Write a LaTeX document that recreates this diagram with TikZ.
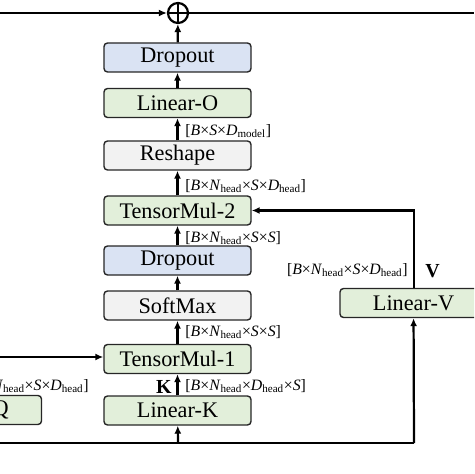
\documentclass[tikz,border=0pt]{standalone}
\usepackage{fontspec}
\setmainfont{Liberation Serif}
\usepackage{xcolor}
\usepackage{tikz}
\usetikzlibrary{arrows.meta}

\definecolor{lingreen}{RGB}{226,239,218}
\definecolor{dropblue}{RGB}{218,227,243}
\definecolor{opgray}{RGB}{242,242,242}

\newcommand{\Bd}{\textit{B}}
\newcommand{\Sd}{\textit{S}}
\newcommand{\Nhd}{\textit{N}\textsubscript{head}}
\newcommand{\Dhd}{\textit{D}\textsubscript{head}}

\tikzset{
  block/.style={draw=black!85, line width=1.2pt, rounded corners=3pt,
    minimum width=4.41cm, minimum height=0.87cm, inner sep=0pt,
    font=\fontsize{19}{22}\selectfont},
  linbox/.style={block, fill=lingreen},
  dropbox/.style={block, fill=dropblue},
  opbox/.style={block, fill=opgray},
  flow/.style={line width=1.9pt, -{Latex[length=2.4mm,width=2.1mm]}},
  wire/.style={line width=1.9pt},
  dimlabel/.style={inner sep=1pt, font=\fontsize{13.5}{15}\selectfont},
}

\begin{document}
\begin{tikzpicture}[x=0.3mm, y=-0.3mm]
  \clip (0,0) rectangle (474,474);

  % main column
  \node[dropbox] (do1) at (177.5,57.5) {Dropout};
  \node[linbox]  (lo)  at (177.5,103) {Linear-O};
  \node[opbox]   (rs)  at (177.5,155.5) {Reshape};
  \node[linbox]  (tm2) at (177.5,210.5) {TensorMul-2};
  \node[dropbox] (do2) at (177.5,260.5) {Dropout};
  \node[opbox]   (sm)  at (177.5,305.5) {SoftMax};
  \node[linbox]  (tm1) at (177.5,359) {TensorMul-1};
  \node[linbox]  (lk)  at (177.5,410.5) {Linear-K};

  % side branches
  \node[linbox] (lq) at (-32,410) {Linear-Q};
  \node[linbox] (lv) at (413.5,303) {Linear-V};

  % residual add
  \node[draw, circle, line width=1.9pt, minimum size=0.6cm, inner sep=0pt] (add) at (178,13) {};
  \draw[line width=1.6pt] (add.north) -- (add.south) (add.west) -- (add.east);
  \coordinate (resin) at (0,13);
  \coordinate (resout) at (474,13);
  \draw[flow, line width=2.2pt] (resin) -- (add.west);
  \draw[wire, line width=2.2pt] (add.east) -- (resout);

  % column connectors
  \draw[flow] (lk) -- (tm1);
  \draw[flow] (tm1) -- (sm);
  \draw[flow] (sm) -- (do2);
  \draw[flow] (do2) -- (tm2);
  \draw[flow] (tm2) -- (rs);
  \draw[flow] (rs) -- (lo);
  \draw[flow] (lo) -- (do1);
  \draw[flow] (do1) -- (add);

  % Q input and shared input line
  \coordinate (qin) at (0,357);
  \draw[flow] (qin) -- (tm1.west |- qin);
  \coordinate (xin) at (0,443);
  \draw[wire] (xin) -- (414,443);
  \draw[flow] (178,443) -- (lk);
  \draw[flow] (414,443) -- (lv);

  % V path
  \draw[flow] (lv.north -| 414,0) |- (tm2.east);

  % shape labels
  \node[dimlabel, anchor=west] (dmodel) at (184,131) {[\Bd×\Sd×\textit{D}\textsubscript{model}]};
  \node[dimlabel, anchor=west] (dattn) at (184,186) {[\Bd×\Nhd×\Sd×\Dhd]};
  \node[dimlabel, anchor=west] (dss2) at (184,238) {[\Bd×\Nhd×\Sd×\Sd]};
  \node[dimlabel, anchor=west] (dss1) at (184,332) {[\Bd×\Nhd×\Sd×\Sd]};
  \node[dimlabel, anchor=west] (dk) at (184,386) {[\Bd×\Nhd×\Dhd×\Sd]};
  \node[dimlabel, anchor=east] (dq) at (90,386) {[\Bd×\Nhd×\Sd×\Dhd]};
  \node[dimlabel, anchor=east] (dv) at (409,270) {[\Bd×\Nhd×\Sd×\Dhd]};
  \node[anchor=east, inner sep=1pt, font=\fontsize{17}{20}\selectfont\bfseries] (klab) at (173,387) {K};
  \node[anchor=west, inner sep=1pt, font=\fontsize{17}{20}\selectfont\bfseries] (vlab) at (424,271) {V};
\end{tikzpicture}
\end{document}
